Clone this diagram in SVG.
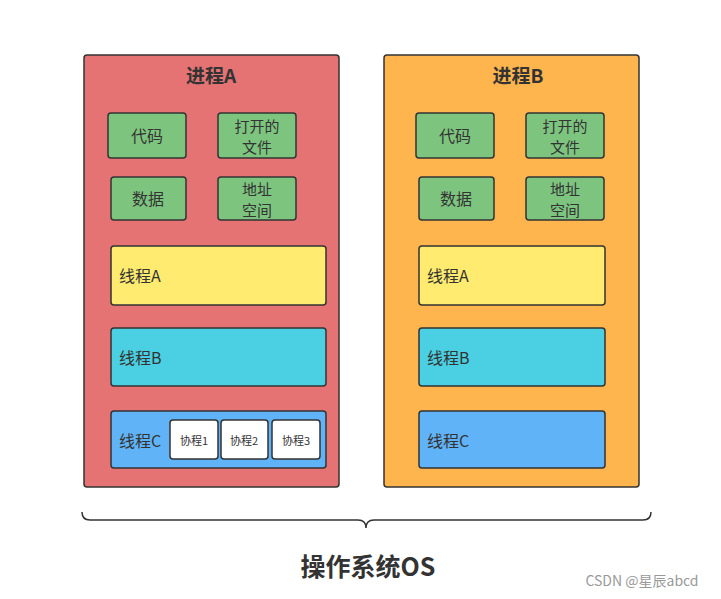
<svg xmlns="http://www.w3.org/2000/svg" width="721" height="599" viewBox="0 0 721 599">
<style>
text{font-family:"Noto Sans CJK SC","Noto Sans",sans-serif;fill:#333;text-anchor:middle;dominant-baseline:central}
.b{stroke:#333;stroke-width:1.5}
.g{fill:#7dc57f}.y{fill:#ffeb6f}.c{fill:#4ad0e2}.bl{fill:#61b3f7}.w{fill:#fff}
.t{font-size:16px}.m{font-size:15px}.s{font-size:11px}.l{text-anchor:start}
</style>
<rect width="721" height="599" fill="#fff"/>
<g id="procA">
<rect class="b" x="84" y="55" width="255" height="432" rx="3" fill="#e57373"/>
<text x="211" y="74" font-size="19" font-weight="bold">进程A</text>
</g>
<g id="A-code"><rect class="b g" x="108" y="113" width="78" height="45" rx="3"/><text class="t" x="147" y="135">代码</text></g>
<g id="A-file"><rect class="b g" x="218" y="113" width="78" height="45" rx="3"/><text class="m" x="257" y="125">打开的</text><text class="m" x="257" y="146">文件</text></g>
<g id="A-data"><rect class="b g" x="111" y="177" width="75" height="43" rx="3"/><text class="t" x="148" y="198">数据</text></g>
<g id="A-addr"><rect class="b g" x="218" y="177" width="78" height="43" rx="3"/><text class="m" x="257" y="188">地址</text><text class="m" x="257" y="209">空间</text></g>
<g id="A-tA"><rect class="b y" x="111" y="246" width="215" height="59" rx="3"/><text class="t l" x="119" y="275">线程A</text></g>
<g id="A-tB"><rect class="b c" x="111" y="328" width="215" height="58" rx="3"/><text class="t l" x="119" y="357">线程B</text></g>
<g id="A-tC"><rect class="b bl" x="111" y="411" width="215" height="57" rx="3"/><text class="t l" x="119" y="440">线程C</text></g>
<g id="co1"><rect class="b w" x="170" y="420" width="48" height="39" rx="3"/><text class="s" x="194" y="440">协程1</text></g>
<g id="co2"><rect class="b w" x="221" y="420" width="47" height="39" rx="3"/><text class="s" x="244" y="440">协程2</text></g>
<g id="co3"><rect class="b w" x="272" y="420" width="48" height="39" rx="3"/><text class="s" x="296" y="440">协程3</text></g>

<g id="procB">
<rect class="b" x="384" y="55" width="255" height="432" rx="3" fill="#ffb54d"/>
<text x="518" y="74" font-size="19" font-weight="bold">进程B</text>
</g>
<g id="B-code"><rect class="b g" x="416" y="113" width="78" height="45" rx="3"/><text class="t" x="455" y="135">代码</text></g>
<g id="B-file"><rect class="b g" x="526" y="113" width="78" height="45" rx="3"/><text class="m" x="565" y="125">打开的</text><text class="m" x="565" y="146">文件</text></g>
<g id="B-data"><rect class="b g" x="419" y="177" width="75" height="43" rx="3"/><text class="t" x="456" y="198">数据</text></g>
<g id="B-addr"><rect class="b g" x="526" y="177" width="78" height="43" rx="3"/><text class="m" x="565" y="188">地址</text><text class="m" x="565" y="209">空间</text></g>
<g id="B-tA"><rect class="b y" x="419" y="246" width="186" height="59" rx="3"/><text class="t l" x="427" y="275">线程A</text></g>
<g id="B-tB"><rect class="b c" x="419" y="328" width="186" height="58" rx="3"/><text class="t l" x="427" y="357">线程B</text></g>
<g id="B-tC"><rect class="b bl" x="419" y="411" width="186" height="57" rx="3"/><text class="t l" x="427" y="440">线程C</text></g>

<g id="connectors">
<path d="M82 512 Q82 520 90 520 L358 520 Q366 520 366 528 Q366 520 374 520 L643 520 Q651 520 651 512" fill="none" stroke="#333" stroke-width="1.5"/>
</g>
<g id="os"><text x="368" y="565" font-size="25" font-weight="bold">操作系统OS</text></g>
<text x="642" y="580" font-size="14" style="fill:#999">CSDN @星辰abcd</text>
</svg>
